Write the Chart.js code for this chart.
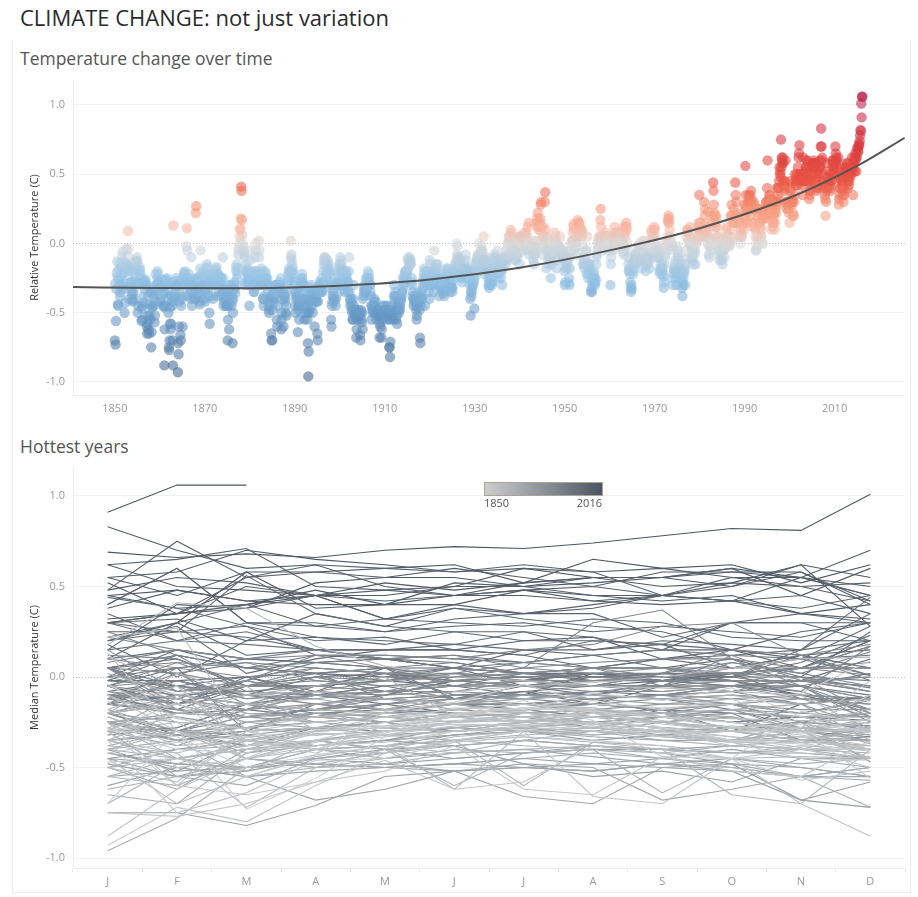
<!DOCTYPE html>
<html>
<head>
<meta charset="utf-8">
<title>CLIMATE CHANGE: not just variation</title>
<script src="https://cdn.jsdelivr.net/npm/chart.js@4.4.1/dist/chart.umd.min.js"></script>
<style>
  body { margin: 0; background: #fff; font-family: 'Open Sans', sans-serif; }
  #wrap { position: relative; width: 918px; height: 897px; overflow: hidden; }
  .frame { position: absolute; left: 12px; top: 40px; width: 897px; height: 852px;
           border: 1px solid #ececec; border-top: none; }
  h1 { position: absolute; left: 20px; top: 6px; margin: 0; font-size: 22px; line-height: 1;
       font-weight: 400; color: #2b2b2b; white-space: nowrap; }
  h2 { position: absolute; left: 20px; margin: 0; font-size: 17.5px; line-height: 1;
       font-weight: 400; color: #555; white-space: nowrap; }
  canvas { position: absolute; left: 12px; }
  #legend { position: absolute; left: 484px; top: 482px; width: 117px; height: 12px;
            border: 1px solid #aaa397; }
  .leglab { position: absolute; top: 496px; font-size: 11px; color: #555; line-height: 14px; }
</style>
</head>
<body>
<div id="wrap">
  <div class="frame"></div>
  <h1>CLIMATE CHANGE: not just variation</h1>
  <h2 style="top:50px">Temperature change over time</h2>
  <canvas id="scatter" width="898" height="350" style="top:70px"></canvas>
  <h2 style="top:438px">Hottest years</h2>
  <canvas id="lines" width="898" height="432" style="top:460px"></canvas>
  <div id="legend"></div>
  <div class="leglab" style="left:484px">1850</div>
  <div class="leglab" style="left:562px; width:40px; text-align:right">2016</div>
</div>
<script>
// monthly temperature anomaly (C), one row per year from 1850, Jan..Dec
const firstYear = 1850;
const temps = [
  [-0.70,-0.29,-0.73,-0.56,-0.33,-0.21,-0.13,-0.24,-0.44,-0.45,-0.19,-0.26], // 1850
  [-0.30,-0.14,-0.38,-0.35,-0.25,-0.17,-0.18,-0.09,-0.13,-0.06,-0.22,-0.31],
  [-0.29,-0.33,-0.50,-0.43,-0.19,-0.14,-0.04,-0.15,-0.17,-0.15,-0.09,0.09],
  [-0.04,-0.23,-0.29,-0.40,-0.31,-0.20,-0.17,-0.18,-0.28,-0.35,-0.37,-0.41],
  [-0.42,-0.36,-0.33,-0.40,-0.27,-0.21,-0.19,-0.13,-0.18,-0.12,-0.28,-0.10],
  [-0.13,-0.50,-0.45,-0.29,-0.28,-0.21,-0.17,-0.19,-0.22,-0.25,-0.29,-0.56],
  [-0.47,-0.45,-0.55,-0.43,-0.38,-0.30,-0.29,-0.27,-0.33,-0.28,-0.26,-0.30],
  [-0.30,-0.60,-0.65,-0.58,-0.52,-0.38,-0.62,-0.65,-0.44,-0.52,-0.55,-0.35],
  [-0.35,-0.75,-0.64,-0.46,-0.45,-0.36,-0.33,-0.35,-0.38,-0.45,-0.57,-0.52],
  [-0.30,-0.22,-0.35,-0.42,-0.30,-0.25,-0.20,-0.22,-0.29,-0.27,-0.31,-0.28],
  [-0.28,-0.40,-0.42,-0.31,-0.32,-0.27,-0.26,-0.30,-0.30,-0.36,-0.45,-0.46], // 1860
  [-0.88,-0.62,-0.45,-0.36,-0.30,-0.26,-0.27,-0.25,-0.28,-0.33,-0.39,-0.50],
  [-0.75,-0.77,-0.70,-0.58,-0.46,-0.62,-0.58,-0.38,-0.42,-0.45,-0.70,-0.88],
  [0.13,-0.30,-0.40,-0.38,-0.36,-0.30,-0.27,-0.25,-0.31,-0.30,-0.30,-0.29],
  [-0.93,-0.72,-0.80,-0.60,-0.42,-0.35,-0.30,-0.66,-0.70,-0.45,-0.40,-0.38],
  [-0.25,-0.60,-0.30,-0.25,-0.22,-0.21,-0.24,-0.20,-0.26,-0.30,-0.28,-0.02],
  [0.11,-0.05,-0.38,-0.30,-0.28,-0.22,-0.25,-0.28,-0.30,-0.35,-0.35,-0.40],
  [-0.10,-0.30,-0.45,-0.38,-0.33,-0.30,-0.28,-0.26,-0.30,-0.35,-0.40,-0.40],
  [0.22,0.27,-0.30,-0.38,-0.32,-0.25,-0.24,-0.26,-0.33,-0.36,-0.42,-0.44],
  [-0.18,-0.05,-0.35,-0.32,-0.30,-0.25,-0.22,-0.20,-0.24,-0.30,-0.33,-0.40],
  [-0.35,-0.42,-0.33,-0.30,-0.22,-0.18,-0.15,-0.17,-0.22,-0.28,-0.32,-0.38], // 1870
  [-0.50,-0.58,-0.30,-0.28,-0.27,-0.24,-0.22,-0.26,-0.30,-0.38,-0.40,-0.30],
  [-0.30,-0.25,-0.28,-0.22,-0.20,-0.20,-0.18,-0.17,-0.22,-0.23,-0.24,-0.24],
  [-0.22,-0.38,-0.35,-0.30,-0.28,-0.25,-0.24,-0.26,-0.30,-0.33,-0.36,-0.38],
  [-0.10,-0.25,-0.45,-0.40,-0.42,-0.36,-0.33,-0.36,-0.40,-0.45,-0.44,-0.45],
  [-0.45,-0.70,-0.55,-0.44,-0.38,-0.62,-0.30,-0.30,-0.33,-0.36,-0.36,-0.45],
  [-0.38,-0.42,-0.72,-0.50,-0.40,-0.33,-0.30,-0.28,-0.33,-0.36,-0.30,-0.17],
  [-0.20,-0.15,-0.25,-0.22,-0.18,-0.08,-0.05,-0.03,0.00,0.05,0.10,0.11],
  [0.18,0.41,0.38,0.17,0.06,0.00,-0.02,-0.05,-0.06,-0.08,-0.10,-0.30],
  [-0.28,-0.20,-0.15,-0.18,-0.20,-0.22,-0.25,-0.22,-0.25,-0.28,-0.30,-0.45],
  [-0.05,-0.12,-0.20,-0.25,-0.22,-0.25,-0.22,-0.20,-0.25,-0.30,-0.35,-0.30], // 1880
  [-0.35,-0.20,-0.10,-0.05,0.00,-0.22,-0.25,-0.20,-0.22,-0.28,-0.30,-0.23],
  [0.02,-0.10,-0.05,-0.30,-0.28,-0.30,-0.25,-0.18,-0.20,-0.25,-0.30,-0.40],
  [-0.40,-0.45,-0.38,-0.30,-0.25,-0.20,-0.22,-0.25,-0.25,-0.30,-0.28,-0.25],
  [-0.35,-0.30,-0.45,-0.50,-0.48,-0.42,-0.40,-0.38,-0.40,-0.65,-0.70,-0.40],
  [-0.70,-0.48,-0.35,-0.40,-0.38,-0.42,-0.35,-0.30,-0.32,-0.35,-0.30,-0.30],
  [-0.55,-0.60,-0.45,-0.35,-0.32,-0.35,-0.30,-0.32,-0.28,-0.35,-0.30,-0.25],
  [-0.62,-0.55,-0.50,-0.40,-0.38,-0.35,-0.60,-0.36,-0.38,-0.42,-0.38,-0.40],
  [-0.50,-0.45,-0.52,-0.35,-0.30,-0.28,-0.25,-0.22,-0.20,-0.18,-0.22,-0.20],
  [-0.20,0.02,-0.10,-0.08,-0.12,-0.15,-0.20,-0.18,-0.22,-0.25,-0.28,-0.30],
  [-0.35,-0.45,-0.50,-0.40,-0.38,-0.35,-0.38,-0.40,-0.64,-0.45,-0.48,-0.45], // 1890
  [-0.55,-0.45,-0.40,-0.35,-0.30,-0.28,-0.25,-0.22,-0.25,-0.30,-0.28,-0.30],
  [-0.40,-0.35,-0.55,-0.50,-0.45,-0.40,-0.42,-0.40,-0.45,-0.50,-0.55,-0.72],
  [-0.96,-0.78,-0.50,-0.48,-0.42,-0.35,-0.32,-0.30,-0.35,-0.38,-0.40,-0.45],
  [-0.50,-0.40,-0.38,-0.35,-0.40,-0.60,-0.42,-0.40,-0.42,-0.38,-0.40,-0.42],
  [-0.65,-0.70,-0.42,-0.35,-0.32,-0.30,-0.28,-0.30,-0.32,-0.35,-0.33,-0.35],
  [-0.25,-0.30,-0.35,-0.28,-0.20,-0.15,-0.12,-0.10,-0.12,-0.10,-0.15,-0.12],
  [-0.25,-0.20,-0.22,-0.15,-0.12,-0.18,-0.15,-0.18,-0.20,-0.22,-0.28,-0.32],
  [-0.30,-0.55,-0.60,-0.45,-0.42,-0.38,-0.35,-0.38,-0.40,-0.42,-0.40,-0.30],
  [-0.25,-0.45,-0.40,-0.30,-0.28,-0.30,-0.28,-0.22,-0.20,-0.18,-0.15,-0.35],
  [-0.30,-0.10,-0.15,-0.12,-0.18,-0.15,-0.20,-0.22,-0.20,-0.25,-0.30,-0.28], // 1900
  [-0.22,-0.35,-0.20,-0.22,-0.25,-0.20,-0.22,-0.25,-0.28,-0.30,-0.35,-0.28],
  [-0.20,-0.10,-0.35,-0.40,-0.45,-0.42,-0.40,-0.44,-0.48,-0.50,-0.55,-0.55],
  [-0.40,-0.30,-0.45,-0.50,-0.48,-0.52,-0.48,-0.50,-0.68,-0.62,-0.55,-0.50],
  [-0.55,-0.52,-0.50,-0.48,-0.50,-0.52,-0.66,-0.70,-0.50,-0.48,-0.55,-0.57],
  [-0.50,-0.62,-0.40,-0.38,-0.35,-0.32,-0.30,-0.33,-0.35,-0.35,-0.25,-0.37],
  [-0.25,-0.32,-0.28,-0.20,-0.25,-0.22,-0.25,-0.28,-0.30,-0.30,-0.35,-0.38],
  [-0.45,-0.55,-0.45,-0.48,-0.50,-0.48,-0.45,-0.42,-0.45,-0.40,-0.45,-0.50],
  [-0.42,-0.50,-0.55,-0.52,-0.50,-0.48,-0.50,-0.52,-0.48,-0.52,-0.68,-0.58],
  [-0.60,-0.50,-0.55,-0.68,-0.62,-0.52,-0.50,-0.48,-0.45,-0.48,-0.50,-0.55],
  [-0.45,-0.48,-0.50,-0.48,-0.50,-0.48,-0.45,-0.48,-0.50,-0.52,-0.55,-0.50], // 1910
  [-0.75,-0.75,-0.82,-0.71,-0.55,-0.52,-0.50,-0.52,-0.48,-0.45,-0.50,-0.55],
  [-0.38,-0.30,-0.42,-0.38,-0.35,-0.38,-0.48,-0.55,-0.52,-0.58,-0.45,-0.45],
  [-0.42,-0.48,-0.50,-0.45,-0.48,-0.45,-0.42,-0.40,-0.40,-0.38,-0.35,-0.35],
  [-0.25,-0.32,-0.30,-0.28,-0.25,-0.22,-0.20,-0.22,-0.25,-0.20,-0.22,-0.22],
  [-0.20,-0.12,-0.18,-0.10,-0.12,-0.15,-0.10,-0.12,-0.15,-0.12,-0.15,-0.28],
  [-0.25,-0.30,-0.38,-0.35,-0.40,-0.45,-0.42,-0.38,-0.40,-0.42,-0.42,-0.45],
  [-0.48,-0.55,-0.52,-0.45,-0.40,-0.38,-0.35,-0.38,-0.42,-0.48,-0.68,-0.72],
  [-0.45,-0.40,-0.35,-0.40,-0.38,-0.32,-0.28,-0.25,-0.22,-0.18,-0.30,-0.45],
  [-0.20,-0.25,-0.28,-0.20,-0.25,-0.30,-0.28,-0.30,-0.25,-0.22,-0.35,-0.40],
  [-0.12,-0.20,-0.15,-0.25,-0.28,-0.30,-0.28,-0.25,-0.22,-0.28,-0.30,-0.35], // 1920
  [-0.05,-0.18,-0.22,-0.20,-0.22,-0.18,-0.15,-0.20,-0.18,-0.15,-0.25,-0.28],
  [-0.30,-0.38,-0.25,-0.28,-0.32,-0.30,-0.28,-0.32,-0.30,-0.28,-0.25,-0.36],
  [-0.28,-0.35,-0.32,-0.38,-0.35,-0.28,-0.25,-0.28,-0.22,-0.18,-0.20,-0.22],
  [-0.18,-0.30,-0.28,-0.32,-0.30,-0.28,-0.30,-0.35,-0.32,-0.30,-0.28,-0.32],
  [-0.35,-0.32,-0.25,-0.20,-0.22,-0.25,-0.20,-0.18,-0.15,-0.15,-0.20,-0.12],
  [0.00,-0.08,-0.02,-0.10,-0.12,-0.15,-0.12,-0.10,-0.12,-0.15,-0.12,-0.22],
  [-0.25,-0.22,-0.28,-0.25,-0.22,-0.18,-0.20,-0.22,-0.20,-0.15,-0.18,-0.18],
  [-0.08,-0.12,-0.22,-0.25,-0.22,-0.25,-0.20,-0.18,-0.22,-0.20,-0.22,-0.30],
  [-0.40,-0.52,-0.35,-0.38,-0.35,-0.32,-0.30,-0.28,-0.30,-0.28,-0.25,-0.47],
  [-0.25,-0.20,-0.15,-0.18,-0.15,-0.12,-0.10,-0.12,-0.10,-0.08,0.00,-0.20], // 1930
  [-0.08,-0.15,-0.10,-0.12,-0.08,-0.05,-0.02,-0.05,-0.08,-0.05,-0.12,-0.15],
  [0.05,-0.18,-0.22,-0.15,-0.18,-0.12,-0.15,-0.12,-0.10,-0.15,-0.20,-0.13],
  [-0.25,-0.30,-0.32,-0.28,-0.25,-0.30,-0.25,-0.22,-0.25,-0.28,-0.30,-0.28],
  [-0.15,-0.18,-0.22,-0.18,-0.10,-0.08,-0.10,-0.12,-0.10,-0.12,-0.10,-0.12],
  [-0.12,-0.05,-0.20,-0.22,-0.25,-0.20,-0.18,-0.15,-0.18,-0.15,-0.25,-0.20],
  [-0.20,-0.30,-0.18,-0.15,-0.12,-0.10,-0.12,-0.10,-0.12,-0.10,-0.12,-0.15],
  [-0.10,-0.05,-0.12,-0.08,-0.02,0.00,0.02,0.05,0.05,0.02,0.00,-0.08],
  [0.10,0.05,0.08,-0.02,-0.05,-0.05,-0.02,-0.02,0.00,0.02,-0.05,-0.12],
  [-0.05,-0.02,-0.12,-0.10,-0.08,-0.05,-0.05,-0.08,-0.08,-0.05,0.05,0.05],
  [-0.15,0.05,0.00,0.05,0.02,0.00,0.05,0.02,0.05,0.02,0.05,0.05], // 1940
  [-0.05,0.08,-0.05,0.05,0.02,0.02,0.08,0.05,-0.05,0.12,-0.02,0.00],
  [0.15,-0.08,-0.05,-0.02,-0.05,-0.02,-0.05,-0.05,-0.05,-0.02,-0.02,-0.08],
  [-0.12,0.02,-0.15,-0.05,-0.08,-0.08,-0.02,-0.05,0.02,0.15,0.12,0.18],
  [0.22,0.15,0.10,0.12,0.12,0.10,0.15,0.18,0.28,0.30,0.12,-0.02],
  [0.05,-0.08,-0.02,0.12,0.05,0.00,0.05,0.30,0.37,0.10,-0.05,-0.18],
  [0.05,0.02,-0.05,0.02,-0.12,-0.15,-0.08,-0.10,-0.05,-0.08,-0.05,-0.25],
  [-0.10,-0.15,-0.05,0.00,-0.08,0.00,-0.02,-0.05,-0.05,0.08,0.02,-0.05],
  [0.05,-0.12,-0.18,-0.05,0.00,-0.02,-0.05,-0.02,-0.02,-0.02,-0.02,-0.05],
  [0.05,-0.08,-0.05,-0.05,-0.08,-0.12,-0.10,-0.08,-0.05,-0.05,-0.08,-0.20],
  [-0.30,-0.28,-0.15,-0.18,-0.12,-0.10,-0.12,-0.15,-0.12,-0.18,-0.28,-0.10], // 1950
  [-0.25,-0.30,-0.18,-0.10,-0.05,-0.02,0.00,0.02,0.02,0.08,0.02,0.14],
  [0.12,0.10,-0.05,0.00,-0.02,0.00,0.02,0.05,0.05,-0.02,-0.08,0.17],
  [0.08,0.15,0.10,0.15,0.10,0.12,0.05,0.08,0.10,0.10,0.05,0.08],
  [-0.15,-0.02,-0.10,-0.15,-0.18,-0.15,-0.15,-0.12,-0.10,-0.05,-0.05,-0.22],
  [0.05,-0.15,-0.25,-0.22,-0.20,-0.15,-0.15,-0.15,-0.18,-0.20,-0.35,-0.33],
  [-0.25,-0.35,-0.30,-0.28,-0.25,-0.20,-0.22,-0.25,-0.28,-0.30,-0.25,-0.27],
  [-0.15,-0.10,-0.08,-0.05,0.00,0.02,-0.02,0.05,0.00,0.02,0.05,0.17],
  [0.25,0.12,0.05,0.02,0.05,-0.05,0.02,0.00,-0.02,0.05,0.05,0.01],
  [0.05,0.02,0.08,0.05,0.02,0.05,0.02,0.00,-0.02,-0.05,-0.02,0.00],
  [0.00,0.05,-0.30,-0.15,-0.10,-0.02,-0.05,0.00,0.02,0.00,-0.05,0.02], // 1960
  [0.05,0.12,0.05,0.08,0.05,0.08,0.02,0.00,0.02,0.00,0.00,-0.02],
  [0.05,0.08,0.05,0.02,-0.02,0.02,0.00,0.00,0.02,0.02,0.00,-0.06],
  [-0.02,0.12,-0.08,-0.05,-0.02,0.05,0.08,0.12,0.15,0.12,0.10,0.01],
  [-0.05,-0.10,-0.15,-0.20,-0.18,-0.20,-0.22,-0.28,-0.32,-0.35,-0.30,-0.33],
  [-0.15,-0.20,-0.18,-0.22,-0.15,-0.12,-0.10,-0.12,-0.10,-0.08,-0.15,-0.11],
  [-0.12,-0.05,-0.10,-0.08,-0.10,-0.02,0.00,-0.05,-0.05,-0.08,-0.05,-0.12],
  [-0.12,-0.18,-0.05,-0.05,0.02,-0.10,-0.08,-0.05,-0.05,0.02,-0.12,-0.12],
  [-0.20,-0.15,-0.02,-0.10,-0.15,-0.10,-0.12,-0.08,-0.10,-0.05,-0.10,-0.18],
  [-0.10,-0.12,-0.02,0.08,0.10,0.05,0.02,0.05,0.05,0.05,0.10,0.12],
  [0.05,0.10,-0.05,0.00,-0.08,-0.05,-0.05,-0.10,-0.02,-0.05,-0.05,-0.10], // 1970
  [-0.10,-0.20,-0.22,-0.18,-0.15,-0.20,-0.18,-0.15,-0.18,-0.20,-0.22,-0.24],
  [-0.32,-0.28,-0.15,-0.10,-0.08,-0.05,-0.02,0.02,-0.02,0.00,0.05,0.17],
  [0.15,0.20,0.18,0.15,0.10,0.05,0.02,-0.02,0.00,-0.02,-0.02,-0.05],
  [-0.25,-0.30,-0.22,-0.18,-0.20,-0.18,-0.15,-0.12,-0.20,-0.25,-0.22,-0.30],
  [-0.02,-0.05,-0.08,-0.10,-0.12,-0.15,-0.18,-0.22,-0.20,-0.25,-0.22,-0.20],
  [-0.20,-0.32,-0.38,-0.28,-0.30,-0.25,-0.22,-0.20,-0.18,-0.30,-0.15,-0.11],
  [-0.05,0.05,0.10,0.08,0.10,0.08,0.02,0.02,0.00,0.00,0.12,0.05],
  [-0.02,-0.02,0.00,-0.10,-0.05,-0.12,-0.08,-0.15,-0.05,-0.05,-0.02,-0.08],
  [-0.05,-0.15,0.00,0.02,0.00,0.05,0.02,0.05,0.10,0.12,0.15,0.35],
  [0.10,0.15,0.05,0.12,0.12,0.10,0.08,0.05,0.10,0.05,0.12,0.05], // 1980
  [0.30,0.20,0.25,0.15,0.10,0.12,0.08,0.12,0.05,0.00,0.08,0.23],
  [-0.08,-0.02,-0.10,0.00,0.02,-0.02,0.00,-0.05,0.02,0.00,0.15,0.20],
  [0.44,0.38,0.28,0.20,0.22,0.15,0.12,0.20,0.18,0.05,0.12,0.01],
  [0.05,-0.05,0.00,-0.08,0.05,-0.12,-0.05,0.00,0.00,-0.02,-0.10,-0.12],
  [-0.05,-0.15,-0.05,-0.05,-0.02,-0.05,-0.10,0.02,-0.02,-0.02,-0.02,0.10],
  [0.05,0.12,0.05,0.02,0.05,0.00,-0.02,0.02,-0.02,0.02,0.05,0.20],
  [0.20,0.28,0.02,0.10,0.15,0.18,0.25,0.15,0.20,0.18,0.15,0.44],
  [0.35,0.20,0.30,0.22,0.20,0.18,0.15,0.15,0.18,0.15,0.05,0.05],
  [0.00,0.15,0.10,0.08,0.05,0.05,0.15,0.12,0.15,0.15,0.10,0.28],
  [0.20,0.25,0.56,0.35,0.28,0.25,0.25,0.22,0.15,0.30,0.35,0.30], // 1990
  [0.30,0.32,0.20,0.35,0.28,0.38,0.32,0.28,0.25,0.15,0.12,0.15],
  [0.30,0.25,0.28,0.12,0.10,0.05,-0.05,-0.05,-0.02,0.02,0.05,0.20],
  [0.25,0.25,0.22,0.15,0.15,0.15,0.12,0.05,0.05,0.10,0.00,0.25],
  [0.18,0.00,0.20,0.22,0.18,0.25,0.20,0.20,0.18,0.30,0.30,0.30],
  [0.40,0.60,0.30,0.28,0.25,0.32,0.35,0.35,0.22,0.30,0.30,0.20],
  [0.10,0.30,0.12,0.15,0.15,0.15,0.20,0.22,0.10,0.15,0.25,0.30],
  [0.22,0.30,0.40,0.28,0.32,0.40,0.35,0.40,0.45,0.55,0.50,0.52],
  [0.48,0.75,0.55,0.62,0.60,0.58,0.62,0.58,0.45,0.42,0.38,0.45],
  [0.40,0.60,0.30,0.30,0.25,0.28,0.30,0.25,0.28,0.25,0.22,0.30],
  [0.15,0.40,0.38,0.45,0.32,0.30,0.28,0.32,0.30,0.22,0.20,0.20], // 2000
  [0.30,0.35,0.50,0.45,0.42,0.45,0.48,0.50,0.45,0.42,0.55,0.45],
  [0.62,0.65,0.71,0.50,0.48,0.50,0.50,0.45,0.45,0.42,0.45,0.35],
  [0.62,0.50,0.48,0.45,0.48,0.45,0.52,0.55,0.55,0.60,0.45,0.60],
  [0.48,0.55,0.52,0.45,0.32,0.38,0.35,0.38,0.45,0.50,0.58,0.42],
  [0.55,0.45,0.58,0.58,0.55,0.60,0.55,0.50,0.58,0.58,0.55,0.45],
  [0.38,0.48,0.42,0.40,0.40,0.52,0.50,0.55,0.55,0.60,0.55,0.70],
  [0.83,0.70,0.60,0.62,0.50,0.45,0.45,0.42,0.40,0.42,0.35,0.32],
  [0.20,0.30,0.58,0.38,0.40,0.40,0.48,0.42,0.45,0.52,0.50,0.42],
  [0.45,0.38,0.40,0.45,0.45,0.50,0.60,0.58,0.60,0.55,0.55,0.50],
  [0.55,0.58,0.70,0.65,0.62,0.58,0.60,0.55,0.50,0.52,0.62,0.28], // 2010
  [0.32,0.35,0.40,0.48,0.40,0.45,0.48,0.45,0.42,0.45,0.35,0.40],
  [0.30,0.35,0.38,0.52,0.55,0.55,0.50,0.52,0.55,0.58,0.58,0.40],
  [0.45,0.48,0.42,0.45,0.52,0.48,0.52,0.55,0.55,0.50,0.62,0.55],
  [0.52,0.35,0.55,0.58,0.60,0.62,0.52,0.65,0.60,0.62,0.52,0.62],
  [0.69,0.66,0.68,0.66,0.70,0.72,0.71,0.74,0.78,0.82,0.81,1.01],
  [0.91,1.06,1.06] // 2016
];
const years = temps.map((row, i) => firstYear + i);
const months = ['J', 'F', 'M', 'A', 'M', 'J', 'J', 'A', 'S', 'O', 'N', 'D'];

// trend curve
const trendYears = [1840.7, 1860, 1880, 1900, 1920, 1940, 1960, 1980, 2000, 2015, 2025.6];
const trendVals = [-0.315, -0.322, -0.323, -0.305, -0.26, -0.175, -0.05, 0.11, 0.33, 0.56, 0.763];

const yearTicks = [1850, 1870, 1890, 1910, 1930, 1950, 1970, 1990, 2010];
const tempTicks = [-1.0, -0.5, 0.0, 0.5, 1.0];

// colours
const valueStops = [-0.97, -0.5, -0.25, 0.0, 0.1, 0.25, 0.45, 0.7, 1.07];
const valueColors = [[62,96,140],[105,155,200],[150,196,230],[218,218,218],
                     [248,185,165],[246,150,120],[232,85,68],[220,60,65],[185,30,70]];

function colorFor(v, a) {
    let i = 0;
    while (i < valueStops.length - 2 && v > valueStops[i + 1]) i++;
    let t = (v - valueStops[i]) / (valueStops[i + 1] - valueStops[i]);
    t = Math.max(0, Math.min(1, t));
    const c0 = valueColors[i], c1 = valueColors[i + 1];
    const c = c0.map((x, k) => Math.round(x + (c1[k] - x) * t));
    return 'rgba(' + c[0] + ',' + c[1] + ',' + c[2] + ',' + a + ')';
}

const oldGrey = [204, 205, 206];
const newGrey = [76, 85, 98];
function yearColor(year) {
    const t = (year - 1850) / (2016 - 1850);
    const c = oldGrey.map((x, k) => Math.round(x + (newGrey[k] - x) * t));
    return 'rgb(' + c[0] + ',' + c[1] + ',' + c[2] + ')';
}
document.getElementById('legend').style.background =
    'linear-gradient(to right, ' + yearColor(1850) + ', ' + yearColor(2016) + ')';

Chart.defaults.font.family = "'Open Sans', sans-serif";
Chart.defaults.font.size = 11;
Chart.defaults.color = '#999';
Chart.defaults.animation = false;

// dotted zero line
const zeroLine = {
    id: 'zeroLine',
    beforeDatasetsDraw(chart) {
        const y = Math.round(chart.scales.y.getPixelForValue(0)) + 0.5;
        const { left, right } = chart.chartArea;
        const c = chart.ctx;
        c.save();
        c.strokeStyle = '#bdbdbd';
        c.lineWidth = 1;
        c.setLineDash([1, 2]);
        c.beginPath();
        c.moveTo(left, y);
        c.lineTo(right, y);
        c.stroke();
        c.restore();
    }
};

function yScale(min, max, title) {
    return {
        min: min,
        max: max,
        afterBuildTicks: s => { s.ticks = tempTicks.map(v => ({ value: v })); },
        afterFit: s => { s.width = 61; },
        ticks: { padding: 0, color: '#999', callback: v => v.toFixed(1) },
        grid: {
            drawTicks: true, tickLength: 8, tickColor: 'rgba(0,0,0,0)',
            color: ctx => ctx.tick && ctx.tick.value === 0 ? 'rgba(0,0,0,0)' : '#f0f0f0'
        },
        border: { color: '#ececec' },
        title: { display: true, text: title, color: '#333', font: { size: 11 }, padding: { top: 16, bottom: 0 } }
    };
}

// scatter points: one per month
let points = [];
temps.forEach((row, i) => {
    row.forEach((v, m) => points.push({ x: years[i] + m / 12, y: v }));
});

new Chart(document.getElementById('scatter'), {
    type: 'scatter',
    data: {
        datasets: [
            {
                type: 'line',
                data: trendYears.map((x, i) => ({ x: x, y: trendVals[i] })),
                borderColor: '#555',
                borderWidth: 2,
                pointRadius: 0,
                cubicInterpolationMode: 'monotone',
                order: 0
            },
            {
                data: points,
                pointRadius: 5.2,
                pointBorderWidth: 0,
                backgroundColor: ctx => colorFor(ctx.raw ? ctx.raw.y : 0, 0.58),
                order: 1
            }
        ]
    },
    options: {
        responsive: false,
        layout: { padding: { top: 10, right: 5, left: 0, bottom: 0 } },
        plugins: { legend: { display: false }, tooltip: { enabled: false } },
        scales: {
            x: {
                type: 'linear',
                min: 1840.7,
                max: 2025.6,
                afterBuildTicks: s => { s.ticks = yearTicks.map(v => ({ value: v })); },
                afterFit: s => { s.height = 25; },
                ticks: { padding: 7, color: '#999', callback: v => String(v) },
                grid: { display: true, drawOnChartArea: false, drawTicks: false },
                border: { color: '#ececec' }
            },
            y: yScale(-1.094, 1.18, 'Relative Temperature (C)')
        }
    },
    plugins: [zeroLine]
});

// one line per year, older years drawn on top
const lineSets = temps.map((row, i) => ({
    label: String(years[i]),
    data: row,
    borderColor: yearColor(years[i]),
    borderWidth: 1.1,
    pointRadius: 0,
    tension: 0,
    order: i
}));

new Chart(document.getElementById('lines'), {
    type: 'line',
    data: { labels: months, datasets: lineSets },
    options: {
        responsive: false,
        layout: { padding: { top: 7, right: 5, left: 0, bottom: 0 } },
        plugins: { legend: { display: false }, tooltip: { enabled: false } },
        scales: {
            x: {
                offset: true,
                afterFit: s => { s.height = 24; },
                ticks: { padding: 3, color: '#999' },
                grid: { offset: true, drawOnChartArea: false, drawTicks: true, tickLength: 4, tickColor: '#e6e6e6' },
                border: { color: '#ececec' }
            },
            y: yScale(-1.055, 1.16, 'Median Temperature (C)')
        }
    },
    plugins: [zeroLine]
});
</script>
</body>
</html>
